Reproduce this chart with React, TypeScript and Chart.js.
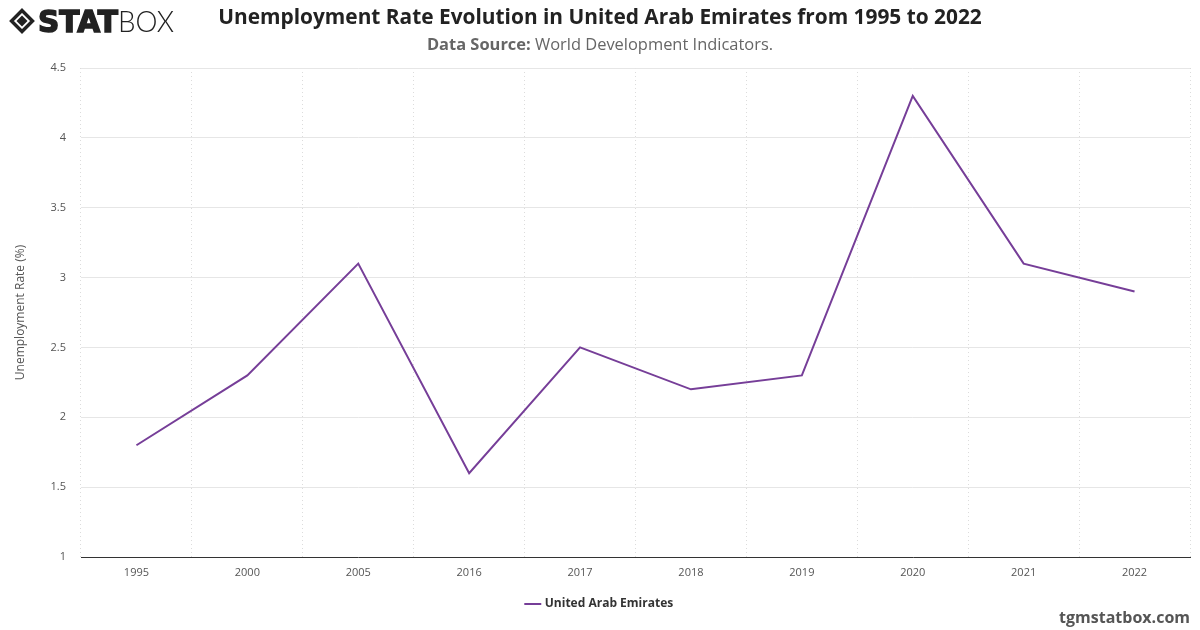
import React, { useEffect, useRef } from "react";
import { Chart, registerables } from "chart.js";

Chart.register(...registerables);

const years = ["1995", "2000", "2005", "2016", "2017", "2018", "2019", "2020", "2021", "2022"];
const uaeRates = [1.8, 2.3, 3.1, 1.6, 2.5, 2.2, 2.3, 4.3, 3.1, 2.9];
const seriesName = "United Arab Emirates";
const titleText = "Unemployment Rate Evolution in United Arab Emirates from 1995 to 2022";
const subtitleBold = "Data Source:";
const subtitleRest = " World Development Indicators.";
const yAxisTitle = "Unemployment Rate (%)";
const watermark = "tgmstatbox.com";

const FONT = "'Open Sans', 'DejaVu Sans', sans-serif";
const LINE_COLOR = "#763e98";

function fitFont(ctx: CanvasRenderingContext2D, text: string, weight: string, target: number, base: number) {
  ctx.font = `${weight} ${base}px ${FONT}`;
  const w = ctx.measureText(text).width;
  return (base * target) / w;
}

const decorPlugin = {
  id: "decor",
  afterDraw(chart: any) {
    const ctx = chart.ctx as CanvasRenderingContext2D;
    ctx.save();
    // Logo icon: diamond outline + inner diamond
    const cx = 22, cy = 21;
    ctx.fillStyle = "#222";
    ctx.strokeStyle = "#222";
    ctx.lineWidth = 3.4;
    ctx.beginPath();
    ctx.moveTo(cx, cy - 10.5);
    ctx.lineTo(cx + 10.5, cy);
    ctx.lineTo(cx, cy + 10.5);
    ctx.lineTo(cx - 10.5, cy);
    ctx.closePath();
    ctx.stroke();
    ctx.beginPath();
    ctx.moveTo(cx, cy - 5.5);
    ctx.lineTo(cx + 5.5, cy);
    ctx.lineTo(cx, cy + 5.5);
    ctx.lineTo(cx - 5.5, cy);
    ctx.closePath();
    ctx.fill();
    // Logo text
    ctx.textBaseline = "alphabetic";
    ctx.textAlign = "left";
    ctx.font = "900 30px 'DejaVu Sans', sans-serif";
    ctx.fillStyle = "#222";
    ctx.strokeStyle = "#222";
    ctx.lineWidth = 1.5;
    const statW = ctx.measureText("STAT").width;
    ctx.save();
    ctx.translate(38, 32);
    ctx.scale(80 / statW, 1);
    ctx.fillText("STAT", 0, 0);
    ctx.strokeText("STAT", 0, 0);
    ctx.restore();
    ctx.font = "300 30px Lato, 'Open Sans', sans-serif";
    const boxW = ctx.measureText("BOX").width;
    ctx.save();
    ctx.translate(118, 32);
    ctx.scale(56 / boxW, 1);
    ctx.fillText("BOX", 0, 0);
    ctx.restore();

    // Title
    ctx.textAlign = "center";
    ctx.textBaseline = "middle";
    ctx.fillStyle = "#222";
    const ts = fitFont(ctx, titleText, "bold", 764, 20);
    ctx.font = `bold ${ts}px ${FONT}`;
    ctx.fillText(titleText, 600, 18);

    // Subtitle
    const ss = fitFont(ctx, subtitleBold + subtitleRest, "normal", 340, 16);
    ctx.font = `bold ${ss}px ${FONT}`;
    const bw = ctx.measureText(subtitleBold).width;
    ctx.font = `${ss}px ${FONT}`;
    const rw = ctx.measureText(subtitleRest).width;
    const start = 600 - (bw + rw) / 2;
    ctx.textAlign = "left";
    ctx.fillStyle = "#666";
    ctx.font = `bold ${ss}px ${FONT}`;
    ctx.fillText(subtitleBold, start, 45);
    ctx.font = `${ss}px ${FONT}`;
    ctx.fillText(subtitleRest, start + bw, 45);

    // Watermark
    ctx.textAlign = "right";
    ctx.font = `bold 16px ${FONT}`;
    ctx.fillStyle = "#555";
    ctx.fillText(watermark, 1190, 618);
    ctx.restore();
  },
};

export default function App() {
  const ref = useRef<HTMLCanvasElement | null>(null);
  useEffect(() => {
    document.body.style.margin = "0";
    if (!ref.current) return;
    const chart = new Chart(ref.current, {
      type: "line",
      data: {
        labels: years,
        datasets: [
          {
            label: seriesName,
            data: uaeRates,
            borderColor: LINE_COLOR,
            backgroundColor: LINE_COLOR,
            borderWidth: 2,
            pointRadius: 0,
            pointHoverRadius: 0,
            tension: 0,
            fill: false,
          },
        ],
      },
      options: {
        animation: false,
        responsive: false,
        maintainAspectRatio: false,
        layout: { padding: { top: 68, left: 10, right: 10, bottom: 10 } },
        plugins: {
          title: { display: false },
          tooltip: { enabled: false },
          legend: {
            position: "bottom",
            labels: {
              usePointStyle: true,
              pointStyle: "line",
              boxWidth: 16,
              padding: 19,
              color: "#333",
              font: { family: FONT, size: 12, weight: "bold" },
            },
          },
        },
        scales: {
          x: {
            offset: true,
            grid: {
              display: true,
              offset: true,
              color: "#dcdcdc",
              lineWidth: 1,
              drawTicks: false,
            },
            border: { display: true, color: "#333", width: 1 },
            ticks: {
              color: "#555",
              font: { family: FONT, size: 11 },
              padding: 9,
              maxRotation: 0,
            },
            afterFit: (scale: any) => {
              scale.height = 22;
            },
          },
          y: {
            min: 1,
            max: 4.5,
            grid: { color: "#e6e6e6", lineWidth: 1, drawTicks: false },
            border: { display: false },
            ticks: {
              stepSize: 0.5,
              color: "#555",
              font: { family: FONT, size: 11 },
              padding: 15,
              callback: (v: any) => String(Number(v)),
            },
            title: {
              display: true,
              text: yAxisTitle,
              color: "#555",
              font: { family: FONT, size: 12 },
              padding: { top: 3, bottom: 0 },
            },
            afterFit: (scale: any) => {
              scale.width = 71;
            },
          },
        },
      },
      plugins: [decorPlugin],
    } as any);
    (chart.options.scales as any).x.border.dash = [1, 3];
    chart.update();
    return () => chart.destroy();
  }, []);
  return (
    <div style={{ position: "absolute", left: 0, top: 0, width: 1200, height: 630, background: "#fff" }}>
      <canvas ref={ref} width={1200} height={630} style={{ width: 1200, height: 630 }} />
    </div>
  );
}
